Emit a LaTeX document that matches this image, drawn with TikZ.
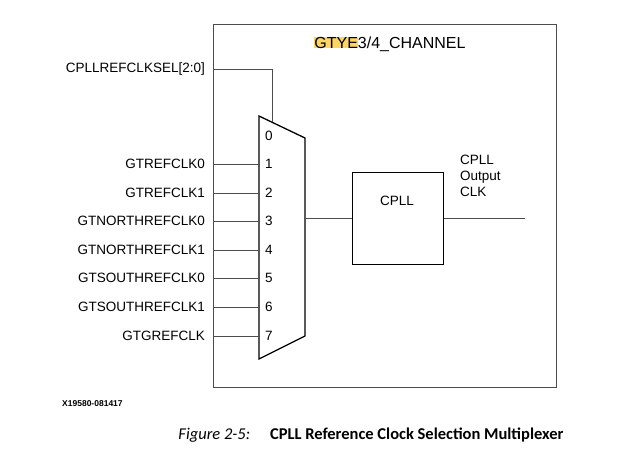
\documentclass[tikz,border=0pt]{standalone}
\usepackage{fontspec}
\setmainfont{Liberation Sans}
\newfontfamily\capfont{Carlito}
\begin{document}
\begin{tikzpicture}[x=1pt,y=-1pt,
  ln/.style={draw=black!70,line width=1pt},
  lbl/.style={anchor=east,font=\fontsize{13.5}{16}\selectfont,inner sep=0pt},
  dig/.style={font=\fontsize{13.5}{16}\selectfont,inner sep=0pt}]
\useasboundingbox (0,0) rectangle (641,461);
\node[draw=black!70,line width=1pt,minimum width=343pt,minimum height=363pt,anchor=north west,inner sep=0pt] (box) at (213,24) {};
\node[font=\fontsize{16}{19}\selectfont,inner sep=0pt] (title) at (390,44) {\setlength{\fboxsep}{0pt}\colorbox{yellow!50!orange!60}{GTYE}3/4\_CHANNEL};
\draw[line width=1.3pt] (259,116) -- (305,138) -- (305,336) -- (259,359) -- cycle;
\node[lbl] (sel) at (205,69) {CPLLREFCLKSEL[2:0]};
\coordinate (s0) at (213,69);
\coordinate (s1) at (272,69);
\coordinate (s2) at (272,122);
\draw[ln] (s0) -- (s1) -- (s2);
\node[dig] (d0) at (269,136) {0};
\foreach \i/\y/\t in {1/164/GTREFCLK0,2/193/GTREFCLK1,3/221/GTNORTHREFCLK0,4/250/GTNORTHREFCLK1,5/278/GTSOUTHREFCLK0,6/307/GTSOUTHREFCLK1,7/336/GTGREFCLK}{
  \node[lbl] (l\i) at (205,\y) {\t};
  \coordinate (a\i) at (213,\y);
  \coordinate (b\i) at (259,\y);
  \draw[ln] (a\i) -- (b\i);
  \node[dig] (d\i) at (269,\y) {\i};
}
\node[draw=black,line width=1.3pt,minimum width=91pt,minimum height=92pt,anchor=north west,inner sep=0pt] (cpll) at (352,172) {};
\node[font=\fontsize{13.5}{16}\selectfont,inner sep=0pt] (ct) at (397,201) {CPLL};
\coordinate (mo) at (305,218);
\draw[ln] (mo) -- (cpll.west |- mo);
\coordinate (out) at (525,218);
\draw[ln] (cpll.east |- out) -- (out);
\node[anchor=north west,align=left,font=\fontsize{13.5}{16}\selectfont,inner sep=0pt] (ol) at (460,155) {CPLL\\Output\\CLK};
\node[anchor=west,font=\bfseries\fontsize{8.5}{10}\selectfont,inner sep=0pt] (fn) at (62,404) {X19580-081417};
\node[font=\capfont\fontsize{16.5}{20}\selectfont,inner sep=0pt] (cap) at (371,435) {\textit{Figure 2-5:}\hspace{1.2em}\textbf{CPLL Reference Clock Selection Multiplexer}};
\end{tikzpicture}
\end{document}
